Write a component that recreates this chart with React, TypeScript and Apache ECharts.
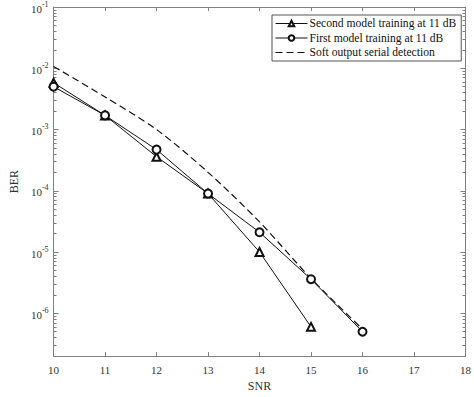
import React, { useEffect, useRef } from "react";
import * as echarts from "echarts";

const snrTicks = [10, 11, 12, 13, 14, 15, 16, 17, 18];
const snrSecond = [10, 11, 12, 13, 14, 15];
const berSecond = [5.8e-3, 1.7e-3, 3.6e-4, 9.0e-5, 1.0e-5, 6.0e-7];
const snrFirst = [10, 11, 12, 13, 14, 15, 16];
const berFirst = [5.0e-3, 1.7e-3, 4.7e-4, 9.0e-5, 2.1e-5, 3.6e-6, 5.0e-7];
const snrSoft = [10, 11, 12, 13, 14, 15, 16];
const berSoft = [1.07e-2, 3.4e-3, 1.0e-3, 2.0e-4, 3.1e-5, 3.7e-6, 5.5e-7];
const majorExponents = [-6, -5, -4, -3, -2, -1];
const seriesNames = [
  "Second model training at 11 dB",
  "First model training at 11 dB",
  "Soft output serial detection",
];

const Y_MIN = 2e-7;
const Y_MAX = 1e-1;
const FONT = "Liberation Serif";
const AXIS_COLOR = "#808080";
const TEXT_COLOR = "#333";

const majorValues = majorExponents.map((e) => Math.pow(10, e));
const minorValues: number[] = [];
for (let e = -7; e <= -2; e++) {
  for (let k = 2; k <= 9; k++) {
    const v = k * Math.pow(10, e);
    if (v > Y_MIN * 1.01 && v < Y_MAX) minorValues.push(v);
  }
}

export default function App() {
  const ref = useRef<HTMLDivElement>(null);
  useEffect(() => {
    if (!ref.current) return;
    const chart = echarts.init(ref.current, undefined, { renderer: "svg" });
    const yBase = {
      type: "log" as const,
      logBase: 10,
      min: Y_MIN,
      max: Y_MAX,
      splitLine: { show: false },
    };
    const yAxes = [
      {
        ...yBase,
        position: "left",
        name: "BER",
        nameLocation: "middle",
        nameGap: 30,
        nameTextStyle: { fontFamily: FONT, fontSize: 12, color: TEXT_COLOR },
        axisLine: { show: true, lineStyle: { color: AXIS_COLOR, width: 1 } },
        axisTick: { show: true, inside: true, length: 5, customValues: majorValues, lineStyle: { color: AXIS_COLOR } },
        axisLabel: {
          show: true,
          customValues: majorValues,
          margin: 5,
          formatter: (v: number) => {
            const e = Math.round(Math.log10(v));
            return `{b|10}{s|${e}}`;
          },
          rich: {
            b: { fontFamily: FONT, fontSize: 11, color: TEXT_COLOR, verticalAlign: "bottom", lineHeight: 14 },
            s: { fontFamily: FONT, fontSize: 8, color: TEXT_COLOR, verticalAlign: "top", lineHeight: 14 },
          },
        },
      },
      {
        ...yBase,
        position: "left",
        axisLine: { show: false },
        axisTick: { show: true, inside: true, length: 3, customValues: minorValues, lineStyle: { color: AXIS_COLOR } },
        axisLabel: { show: false },
      },
      {
        ...yBase,
        position: "right",
        axisLine: { show: true, lineStyle: { color: AXIS_COLOR, width: 1 } },
        axisTick: { show: true, inside: true, length: 5, customValues: majorValues, lineStyle: { color: AXIS_COLOR } },
        axisLabel: { show: false },
      },
      {
        ...yBase,
        position: "right",
        axisLine: { show: false },
        axisTick: { show: true, inside: true, length: 3, customValues: minorValues, lineStyle: { color: AXIS_COLOR } },
        axisLabel: { show: false },
      },
    ];
    const xBase = {
      type: "value" as const,
      min: snrTicks[0],
      max: snrTicks[snrTicks.length - 1],
      interval: 1,
      splitLine: { show: false },
      axisLine: { show: true, onZero: false, lineStyle: { color: AXIS_COLOR, width: 1 } },
      axisTick: { show: true, inside: true, length: 4, lineStyle: { color: AXIS_COLOR } },
    };
    const option = {
      animation: false,
      backgroundColor: "#fff",
      grid: { left: 37, right: 7, top: 5, bottom: 30, containLabel: false },
      xAxis: [
        {
          ...xBase,
          position: "bottom",
          name: "SNR",
          nameLocation: "middle",
          nameGap: 21,
          nameTextStyle: { fontFamily: FONT, fontSize: 12, color: TEXT_COLOR },
          axisLabel: { show: true, margin: 8, fontFamily: FONT, fontSize: 11, color: TEXT_COLOR },
        },
        { ...xBase, position: "top", axisLabel: { show: false } },
      ],
      yAxis: yAxes,
      legend: {
        show: true,
        orient: "vertical",
        left: 272,
        top: 15,
        padding: [2, 5, 2, 3],
        itemWidth: 32,
        itemHeight: 7,
        itemGap: 1.5,
        borderColor: "#555",
        borderWidth: 1,
        borderRadius: 0,
        backgroundColor: "#fff",
        lineStyle: { width: 1 },
        itemStyle: { borderWidth: 1 },
        textStyle: { fontFamily: FONT, fontSize: 11.6, lineHeight: 13, color: "#111", padding: [0, 0, 0, -3] },
        data: [
          { name: seriesNames[0] },
          { name: seriesNames[1] },
          { name: seriesNames[2], itemStyle: { opacity: 0 } },
        ],
      },
      series: [
        {
          name: seriesNames[0],
          type: "line",
          data: snrSecond.map((x, i) => [x, berSecond[i]]),
          symbol: "emptyTriangle",
          symbolSize: 8,
          lineStyle: { color: "#111", width: 1 },
          itemStyle: { color: "#111", borderColor: "#111", borderWidth: 1 },
        },
        {
          name: seriesNames[1],
          type: "line",
          data: snrFirst.map((x, i) => [x, berFirst[i]]),
          symbol: "emptyCircle",
          symbolSize: 8,
          lineStyle: { color: "#111", width: 1 },
          itemStyle: { color: "#111", borderColor: "#111", borderWidth: 1 },
        },
        {
          name: seriesNames[2],
          type: "line",
          data: snrSoft.map((x, i) => [x, berSoft[i]]),
          symbol: "none",
          smooth: 0.3,
          lineStyle: { color: "#111", width: 1.2, type: [7, 4] },
          itemStyle: { color: "#111" },
        },
      ],
    };
    chart.setOption(option as any);
    return () => chart.dispose();
  }, []);
  return <div ref={ref} style={{ width: 474, height: 397, position: "absolute", left: 0, top: 0 }} />;
}
